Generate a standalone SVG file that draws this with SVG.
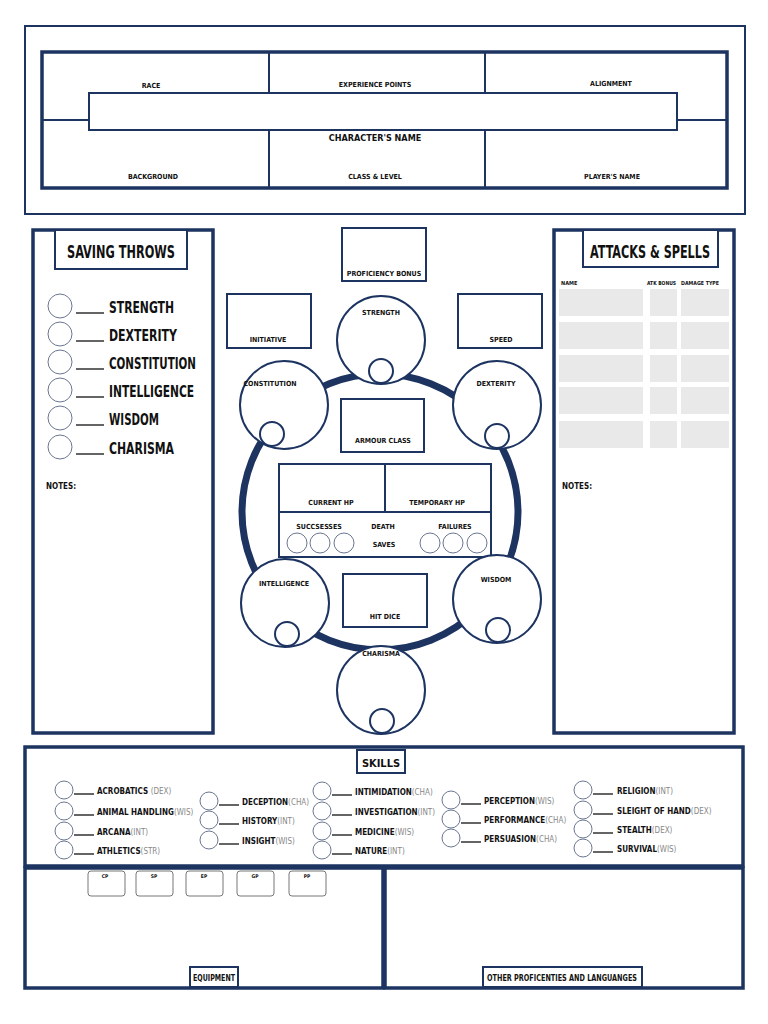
<svg xmlns="http://www.w3.org/2000/svg" width="768" height="1024" viewBox="0 0 768 1024">
<style>
.b{fill:none;stroke:#1d3461;stroke-width:2}
.t{fill:none;stroke:#1d3461;stroke-width:3.5}
.w{fill:#fff;stroke:#1d3461;stroke-width:2}
.c{fill:#fff;stroke:#1d3461;stroke-width:2}
.sc{fill:#fff;stroke:#6a7690;stroke-width:1}
.l{font-family:"DejaVu Sans Condensed","DejaVu Sans",sans-serif;font-weight:bold;fill:#111;text-anchor:middle}
.s{font-size:7px}
.m{font-size:9px}
.h{font-size:18px}
.k{font-family:"DejaVu Sans Condensed","DejaVu Sans",sans-serif;font-weight:bold;fill:#111}
.g{fill:#888;font-weight:normal}
.u{stroke:#111;stroke-width:1.3}
.gr{fill:#e9e9e9}
</style>
<rect width="768" height="1024" fill="#fff"/>
<g id="header">
<rect class="b" x="25" y="26" width="720" height="188"/>
<rect class="t" x="42" y="52" width="685" height="136"/>
<line class="b" x1="269" y1="52" x2="269" y2="188"/>
<line class="b" x1="485" y1="52" x2="485" y2="188"/>
<line class="b" x1="42" y1="120" x2="89" y2="120"/>
<line class="b" x1="677" y1="120" x2="727" y2="120"/>
<rect class="w" x="89" y="93" width="588" height="37" stroke-width="1.5"/>
<text class="l s" x="151" y="88">RACE</text>
<text class="l s" x="375" y="87">EXPERIENCE POINTS</text>
<text class="l s" x="611" y="86">ALIGNMENT</text>
<text class="l m" x="375" y="141">CHARACTER'S NAME</text>
<text class="l s" x="153" y="179">BACKGROUND</text>
<text class="l s" x="375" y="179">CLASS &amp; LEVEL</text>
<text class="l s" x="612" y="179">PLAYER'S NAME</text>
</g>
<g id="saving-throws">
<rect class="t" x="33" y="230" width="180" height="503" stroke-width="3"/>
<rect class="w" x="55" y="230" width="132" height="39" stroke-width="3"/>
<text class="l h" x="121" y="258" textLength="108" lengthAdjust="spacingAndGlyphs">SAVING THROWS</text>
<g class="k">
<circle class="sc" cx="60" cy="306" r="12"/><line class="u" x1="76" y1="313" x2="104" y2="313"/><text x="109" y="313" font-size="16" textLength="65" lengthAdjust="spacingAndGlyphs">STRENGTH</text>
<circle class="sc" cx="60" cy="334" r="12"/><line class="u" x1="76" y1="341" x2="104" y2="341"/><text x="109" y="341" font-size="16" textLength="68" lengthAdjust="spacingAndGlyphs">DEXTERITY</text>
<circle class="sc" cx="60" cy="362" r="12"/><line class="u" x1="76" y1="369" x2="104" y2="369"/><text x="109" y="369" font-size="16" textLength="87" lengthAdjust="spacingAndGlyphs">CONSTITUTION</text>
<circle class="sc" cx="60" cy="390" r="12"/><line class="u" x1="76" y1="397" x2="104" y2="397"/><text x="109" y="397" font-size="16" textLength="85" lengthAdjust="spacingAndGlyphs">INTELLIGENCE</text>
<circle class="sc" cx="60" cy="418" r="12"/><line class="u" x1="76" y1="425" x2="104" y2="425"/><text x="109" y="425" font-size="16" textLength="50" lengthAdjust="spacingAndGlyphs">WISDOM</text>
<circle class="sc" cx="60" cy="447" r="12"/><line class="u" x1="76" y1="454" x2="104" y2="454"/><text x="109" y="454" font-size="16" textLength="65" lengthAdjust="spacingAndGlyphs">CHARISMA</text>
</g>
<text class="k" x="46" y="489" font-size="8">NOTES:</text>
</g>
<g id="attacks">
<rect class="t" x="554" y="230" width="180" height="503" stroke-width="3"/>
<rect class="w" x="583" y="230" width="135" height="37" stroke-width="3"/>
<text class="l h" x="650" y="258" textLength="120" lengthAdjust="spacingAndGlyphs">ATTACKS &amp; SPELLS</text>
<text class="k" x="561" y="285" font-size="5.5">NAME</text>
<text class="k" x="647" y="285" font-size="5.5" textLength="29" lengthAdjust="spacingAndGlyphs">ATK BONUS</text>
<text class="k" x="681" y="285" font-size="5.5" textLength="38" lengthAdjust="spacingAndGlyphs">DAMAGE TYPE</text>
<g class="gr">
<rect x="559" y="289" width="84" height="27"/><rect x="650" y="289" width="27" height="27"/><rect x="681" y="289" width="48" height="27"/>
<rect x="559" y="322" width="84" height="27"/><rect x="650" y="322" width="27" height="27"/><rect x="681" y="322" width="48" height="27"/>
<rect x="559" y="355" width="84" height="27"/><rect x="650" y="355" width="27" height="27"/><rect x="681" y="355" width="48" height="27"/>
<rect x="559" y="387" width="84" height="27"/><rect x="650" y="387" width="27" height="27"/><rect x="681" y="387" width="48" height="27"/>
<rect x="559" y="421" width="84" height="27"/><rect x="650" y="421" width="27" height="27"/><rect x="681" y="421" width="48" height="27"/>
</g>
<text class="k" x="562" y="489" font-size="8">NOTES:</text>
</g>
<g id="center">
<circle cx="380" cy="512" r="138" fill="none" stroke="#1d3461" stroke-width="7"/>
<rect class="w" x="342" y="228" width="84" height="53"/>
<text class="l s" x="384" y="276">PROFICIENCY BONUS</text>
<rect class="w" x="227" y="294" width="84" height="54"/>
<text class="l s" x="268" y="342">INITIATIVE</text>
<rect class="w" x="458" y="294" width="84" height="54"/>
<text class="l s" x="501" y="342">SPEED</text>
<rect class="w" x="341" y="399" width="83" height="53"/>
<text class="l s" x="383" y="443">ARMOUR CLASS</text>
<g id="hp">
<rect class="w" x="279" y="464" width="212" height="93" stroke-width="3"/>
<line class="b" x1="279" y1="512" x2="491" y2="512" stroke-width="2.5"/>
<line class="b" x1="385" y1="464" x2="385" y2="512" stroke-width="2.5"/>
<text class="l s" x="331" y="505">CURRENT HP</text>
<text class="l s" x="437" y="505">TEMPORARY HP</text>
<text class="l s" x="319" y="529">SUCCSESSES</text>
<text class="l s" x="383" y="529">DEATH</text>
<text class="l s" x="384" y="547">SAVES</text>
<text class="l s" x="455" y="529">FAILURES</text>
<circle class="sc" cx="297" cy="543" r="10"/><circle class="sc" cx="320" cy="543" r="10"/><circle class="sc" cx="344" cy="543" r="10"/>
<circle class="sc" cx="430" cy="543" r="10"/><circle class="sc" cx="453" cy="543" r="10"/><circle class="sc" cx="477" cy="543" r="10"/>
</g>
<rect class="w" x="343" y="574" width="84" height="53"/>
<text class="l s" x="385" y="619">HIT DICE</text>
<g id="str"><circle class="c" cx="381" cy="340" r="44"/><circle class="c" cx="381" cy="371" r="12" stroke-width="1.3"/><text class="l s" x="381" y="315">STRENGTH</text></g>
<g id="con"><circle class="c" cx="284" cy="405" r="44"/><circle class="c" cx="272" cy="434" r="12" stroke-width="1.3"/><text class="l s" x="270" y="386">CONSTITUTION</text></g>
<g id="dex"><circle class="c" cx="497" cy="405" r="44"/><circle class="c" cx="497" cy="436" r="12" stroke-width="1.3"/><text class="l s" x="496" y="386">DEXTERITY</text></g>
<g id="int"><circle class="c" cx="285" cy="603" r="44"/><circle class="c" cx="287" cy="634" r="12" stroke-width="1.3"/><text class="l s" x="284" y="586">INTELLIGENCE</text></g>
<g id="wis"><circle class="c" cx="497" cy="599" r="44"/><circle class="c" cx="498" cy="630" r="12" stroke-width="1.3"/><text class="l s" x="496" y="582">WISDOM</text></g>
<g id="cha"><circle class="c" cx="381" cy="690" r="44"/><circle class="c" cx="382" cy="721" r="12" stroke-width="1.3"/><text class="l s" x="381" y="656">CHARISMA</text></g>
</g>
<g id="skills">
<rect class="t" x="25" y="747" width="718" height="119" stroke-width="3"/>
<rect class="w" x="357" y="750" width="48" height="23" stroke-width="2.5"/>
<text class="l" x="381" y="767" font-size="11">SKILLS</text>
<g class="k">
<circle class="sc" cx="64" cy="790" r="9"/><line class="u" x1="74" y1="794" x2="94" y2="794"/><text x="97" y="794" font-size="8">ACROBATICS <tspan class="g">(DEX)</tspan></text>
<circle class="sc" cx="64" cy="811" r="9"/><line class="u" x1="74" y1="815" x2="94" y2="815"/><text x="97" y="815" font-size="8">ANIMAL HANDLING<tspan class="g">(WIS)</tspan></text>
<circle class="sc" cx="64" cy="831" r="9"/><line class="u" x1="74" y1="835" x2="94" y2="835"/><text x="97" y="835" font-size="8">ARCANA<tspan class="g">(INT)</tspan></text>
<circle class="sc" cx="64" cy="850" r="9"/><line class="u" x1="74" y1="854" x2="94" y2="854"/><text x="97" y="854" font-size="8">ATHLETICS<tspan class="g">(STR)</tspan></text>
<circle class="sc" cx="209" cy="801" r="9"/><line class="u" x1="219" y1="805" x2="239" y2="805"/><text x="242" y="805" font-size="8">DECEPTION<tspan class="g">(CHA)</tspan></text>
<circle class="sc" cx="209" cy="820" r="9"/><line class="u" x1="219" y1="824" x2="239" y2="824"/><text x="242" y="824" font-size="8">HISTORY<tspan class="g">(INT)</tspan></text>
<circle class="sc" cx="209" cy="840" r="9"/><line class="u" x1="219" y1="844" x2="239" y2="844"/><text x="242" y="844" font-size="8">INSIGHT<tspan class="g">(WIS)</tspan></text>
<circle class="sc" cx="322" cy="791" r="9"/><line class="u" x1="332" y1="795" x2="352" y2="795"/><text x="355" y="795" font-size="8">INTIMIDATION<tspan class="g">(CHA)</tspan></text>
<circle class="sc" cx="322" cy="811" r="9"/><line class="u" x1="332" y1="815" x2="352" y2="815"/><text x="355" y="815" font-size="8">INVESTIGATION<tspan class="g">(INT)</tspan></text>
<circle class="sc" cx="322" cy="831" r="9"/><line class="u" x1="332" y1="835" x2="352" y2="835"/><text x="355" y="835" font-size="8">MEDICINE<tspan class="g">(WIS)</tspan></text>
<circle class="sc" cx="322" cy="850" r="9"/><line class="u" x1="332" y1="854" x2="352" y2="854"/><text x="355" y="854" font-size="8">NATURE<tspan class="g">(INT)</tspan></text>
<circle class="sc" cx="451" cy="800" r="9"/><line class="u" x1="461" y1="804" x2="481" y2="804"/><text x="484" y="804" font-size="8">PERCEPTION<tspan class="g">(WIS)</tspan></text>
<circle class="sc" cx="451" cy="819" r="9"/><line class="u" x1="461" y1="823" x2="481" y2="823"/><text x="484" y="823" font-size="8">PERFORMANCE<tspan class="g">(CHA)</tspan></text>
<circle class="sc" cx="451" cy="838" r="9"/><line class="u" x1="461" y1="842" x2="481" y2="842"/><text x="484" y="842" font-size="8">PERSUASION<tspan class="g">(CHA)</tspan></text>
<circle class="sc" cx="583" cy="790" r="9"/><line class="u" x1="593" y1="794" x2="613" y2="794"/><text x="617" y="794" font-size="8">RELIGION<tspan class="g">(INT)</tspan></text>
<circle class="sc" cx="583" cy="810" r="9"/><line class="u" x1="593" y1="814" x2="613" y2="814"/><text x="617" y="814" font-size="8">SLEIGHT OF HAND<tspan class="g">(DEX)</tspan></text>
<circle class="sc" cx="583" cy="829" r="9"/><line class="u" x1="593" y1="833" x2="613" y2="833"/><text x="617" y="833" font-size="8">STEALTH<tspan class="g">(DEX)</tspan></text>
<circle class="sc" cx="583" cy="848" r="9"/><line class="u" x1="593" y1="852" x2="613" y2="852"/><text x="617" y="852" font-size="8">SURVIVAL<tspan class="g">(WIS)</tspan></text>
</g>
</g>
<g id="equipment">
<rect class="t" x="25" y="868" width="358" height="120" stroke-width="3"/>
<g fill="#fff" stroke="#777" stroke-width="1">
<rect x="88" y="871" width="37" height="25" rx="3"/><rect x="136" y="871" width="37" height="25" rx="3"/><rect x="186" y="871" width="37" height="25" rx="3"/><rect x="237" y="871" width="37" height="25" rx="3"/><rect x="289" y="871" width="37" height="25" rx="3"/>
</g>
<text class="l" font-size="5" x="105" y="878">CP</text>
<text class="l" font-size="5" x="154" y="878">SP</text>
<text class="l" font-size="5" x="204" y="878">EP</text>
<text class="l" font-size="5" x="255" y="878">GP</text>
<text class="l" font-size="5" x="307" y="878">PP</text>
<rect class="w" x="190" y="967" width="48" height="20" stroke-width="2.5"/>
<text class="l" font-size="8" x="214" y="981" textLength="42" lengthAdjust="spacingAndGlyphs">EQUIPMENT</text>
</g>
<g id="other">
<rect class="t" x="385" y="868" width="358" height="120" stroke-width="3"/>
<rect class="w" x="483" y="967" width="159" height="20" stroke-width="2.5"/>
<text class="l" font-size="8" x="562" y="981" textLength="150" lengthAdjust="spacingAndGlyphs">OTHER PROFICENTIES AND LANGUANGES</text>
</g>
</svg>
